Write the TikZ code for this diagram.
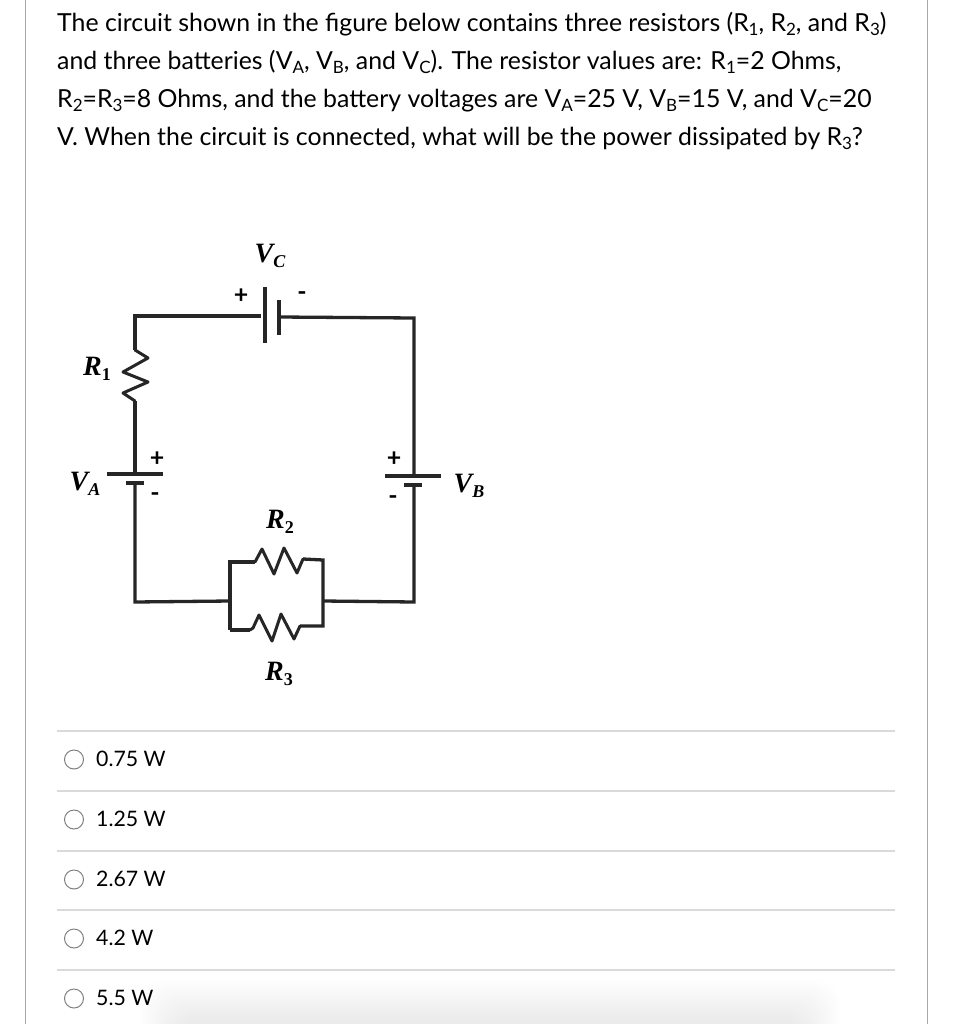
\documentclass[tikz,border=0pt]{standalone}
\usepackage{fontspec}
\setmainfont{Lato}
\newfontfamily\labelfont{Liberation Serif}
\usetikzlibrary{positioning}
\definecolor{framegray}{HTML}{A8A8A8}
\definecolor{rulegray}{HTML}{DADADA}
\definecolor{wirecolor}{HTML}{262626}
\newcommand{\lowtxt}[1]{\raisebox{-0.3ex}{\fontsize{17}{17}\selectfont #1}}
\newcommand{\symlabel}[2]{{\labelfont\bfseries\itshape #1\raisebox{-0.35ex}{\fontsize{18}{18}\selectfont #2}}}
\tikzset{
    questionline/.style={anchor=base west, inner sep=0pt, font=\fontsize{24.85}{30}\selectfont},
    answertext/.style={anchor=base west, inner sep=0pt, font=\fontsize{21.3}{26}\selectfont},
    radio/.style={circle, draw=gray, line width=1pt, minimum size=19pt, inner sep=0pt},
    wire/.style={draw=wirecolor, line width=3.3pt, line join=miter},
    zigzag/.style={draw=wirecolor, line width=3pt, line join=round, line cap=round},
    symlab/.style={inner sep=0pt, font=\fontsize{28}{28}\selectfont},
    signmark/.style={inner sep=0pt, font=\fontsize{25}{25}\selectfont\bfseries}
}
\begin{document}
\begin{tikzpicture}[x=1pt,y=-1pt]
    \useasboundingbox (0,0) rectangle (955,1024);
    \foreach \inset in {0,2,...,38} {
        \fill[black, opacity=0.004, rounded corners=24pt]
            (140+\inset,980+\inset) rectangle (840-\inset,1060);
    }
    \coordinate (frameTL) at (25,0);
    \coordinate (frameBL) at (25,1024);
    \coordinate (frameTR) at (927,0);
    \coordinate (frameBR) at (927,1024);
    \draw[framegray, line width=1pt] (frameTL) -- (frameBL);
    \draw[framegray, line width=1pt] (frameTR) -- (frameBR);

    \node[questionline] (line1) at (57,31.5) {The circuit shown in the figure below contains three resistors (R\lowtxt{1}, R\lowtxt{2}, and R\lowtxt{3})};
    \node[questionline] (line2) at (57,69.5) {and three batteries (V\lowtxt{A}, V\lowtxt{B}, and V\lowtxt{C}). The resistor values are: R\lowtxt{1}=2 Ohms,};
    \node[questionline] (line3) at (57,107.5) {R\lowtxt{2}=R\lowtxt{3}=8 Ohms, and the battery voltages are V\lowtxt{A}=25 V, V\lowtxt{B}=15 V, and V\lowtxt{C}=20};
    \node[questionline] (line4) at (57,146) {V. When the circuit is connected, what will be the power dissipated by R\lowtxt{3}?};

    \coordinate (cornerTL) at (135,316);
    \coordinate (cornerTR) at (414,318);
    \coordinate (cornerBL) at (135,602);
    \coordinate (cornerBR) at (414,602);
    \coordinate (plateCa) at (265,287);
    \coordinate (plateCb) at (265,343);
    \coordinate (plateCc) at (279,300);
    \coordinate (plateCd) at (279,335);
    \coordinate (plateAa) at (107,474);
    \coordinate (plateAb) at (163,474);
    \coordinate (plateAc) at (126,483);
    \coordinate (plateAd) at (144,483);
    \coordinate (plateBa) at (385,476);
    \coordinate (plateBb) at (441,476);
    \coordinate (plateBc) at (404,485);
    \coordinate (plateBd) at (422,485);
    \coordinate (parL) at (230,601);
    \coordinate (parR) at (323,601);
    \coordinate (parLT) at (230,562);
    \coordinate (parLB) at (230,630);
    \coordinate (parRT) at (323,560);
    \coordinate (parRB) at (323,626);
    \coordinate (ronetop) at (135,350);
    \coordinate (ronebot) at (135,401);

    \draw[wire] (ronetop) -- (cornerTL) -- (261,316);
    \draw[wire] (279,317) -- (cornerTR) -- (414,476);
    \draw[wire] (414,485) -- (cornerBR) -- (parR);
    \draw[wire] (parL) -- (cornerBL) -- (135,483);
    \draw[wire] (135,474) -- (ronebot);
    \draw[wire] (plateCa) -- (plateCb);
    \draw[wire] (plateCc) -- (plateCd);
    \draw[wire] (plateAa) -- (plateAb);
    \draw[wire] (plateAc) -- (plateAd);
    \draw[wire] (plateBa) -- (plateBb);
    \draw[wire] (plateBc) -- (plateBd);
    \draw[wire] (parLB) -- (parLT) -- (255,562);
    \draw[wire] (303,559) -- (parRT) -- (parRB) -- (300,626);
    \draw[wire] (parLB) -- (250,630);

    \draw[zigzag] (ronetop) -- (148,358) -- (123,372) -- (148,382) -- (123,393) -- (ronebot);
    \draw[zigzag] (255,562) -- (262,549) -- (274,574) -- (284,548) -- (297,573) -- (303,559);
    \draw[zigzag] (250,630) -- (253,628) -- (259,615) -- (272,641) -- (281,614) -- (294,639) -- (300,626);

    \node[signmark] (plusC) at (241,296) {+};
    \node[signmark] (minusC) at (302,296) {-};
    \node[signmark] (plusA) at (157,459) {+};
    \node[signmark] (minusA) at (155,497) {-};
    \node[signmark] (plusB) at (394,459) {+};
    \node[signmark] (minusB) at (393,500) {-};

    \node[symlab] (labC) at (270,256) {\symlabel{V}{C}};
    \node[symlab] (labOne) at (97,369) {\symlabel{R}{\upshape 1}};
    \node[symlab] (labA) at (85,484) {\symlabel{V}{A}};
    \node[symlab] (labB) at (469,486) {\symlabel{V}{B}};
    \node[symlab] (labTwo) at (280,522) {\symlabel{R}{\upshape 2}};
    \node[symlab] (labThree) at (279,674) {\symlabel{R}{\upshape 3}};

    \foreach \ypos/\ans [count=\k] in {731/0.75 W,791/1.25 W,851/2.67 W,910/4.2 W,970/5.5 W} {
        \coordinate (ruleL\k) at (57,\ypos);
        \coordinate (ruleR\k) at (895,\ypos);
        \draw[rulegray, line width=1.2pt] (ruleL\k) -- (ruleR\k);
        \node[radio] (radio\k) at (74,\ypos+28.5) {};
        \node[answertext] (answer\k) at (96,\ypos+35.5) {\ans};
    }
\end{tikzpicture}
\end{document}
